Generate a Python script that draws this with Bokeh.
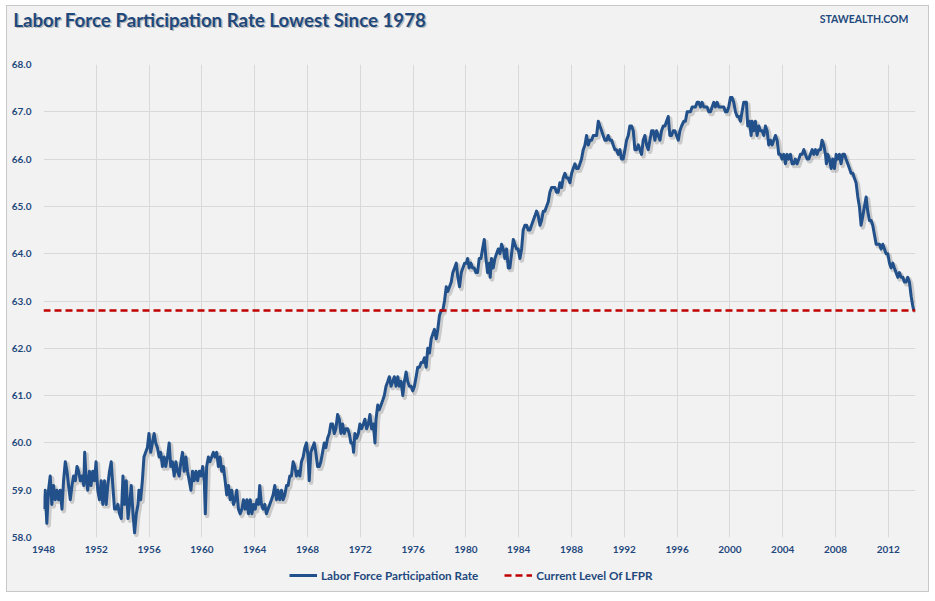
import numpy as np
from bokeh.plotting import figure
from bokeh.layouts import column
from bokeh.models import (FixedTicker, NumeralTickFormatter, Label, Legend,
                          LegendItem, Range1d)
from bokeh.embed import file_html
from bokeh.resources import INLINE

# ---------------- data ----------------
TITLE = "Labor Force Participation Rate Lowest Since 1978"
SOURCE = "STAWEALTH.COM"
SERIES_NAME = "Labor Force Participation Rate"
LEVEL_NAME = "Current Level Of LFPR"
current_level = 62.8
x_ticks = [1948, 1952, 1956, 1960, 1964, 1968, 1972, 1976, 1980, 1984,
           1988, 1992, 1996, 2000, 2004, 2008, 2012]
y_ticks = [58, 59, 60, 61, 62, 63, 64, 65, 66, 67, 68]
x_start, x_end = 1948.0, 2014.06
y_start, y_end = 58.0, 68.0

# (year, participation rate %)
seg_1948_1964 = [
    (1948.00, 58.6), (1948.13, 59.0), (1948.25, 58.3), (1948.38, 59.0), (1948.51, 59.3),
    (1948.63, 58.7), (1948.76, 59.1), (1948.89, 58.8), (1949.02, 59.0), (1949.14, 58.8),
    (1949.27, 59.0), (1949.40, 58.6), (1949.52, 59.2), (1949.65, 59.6), (1949.78, 59.4),
    (1949.90, 59.1), (1950.03, 58.8), (1950.16, 59.1), (1950.28, 59.3), (1950.41, 59.2),
    (1950.54, 59.5), (1950.66, 59.4), (1950.79, 59.2), (1950.92, 59.3), (1951.05, 59.1),
    (1951.12, 59.8), (1951.22, 59.3), (1951.35, 59.0), (1951.48, 59.4), (1951.60, 59.1),
    (1951.73, 59.4), (1951.86, 59.2), (1951.98, 59.6), (1952.11, 59.0), (1952.24, 58.8),
    (1952.37, 59.2), (1952.49, 58.7), (1952.62, 59.2), (1952.75, 58.7), (1952.87, 59.1),
    (1953.00, 59.4), (1953.13, 59.6), (1953.25, 59.1), (1953.38, 58.6), (1953.51, 58.6),
    (1953.63, 58.7), (1953.76, 58.5), (1953.89, 58.4), (1954.02, 59.3), (1954.14, 58.7),
    (1954.27, 59.2), (1954.40, 58.4), (1954.52, 58.7), (1954.65, 59.1), (1954.78, 58.5),
    (1954.90, 58.1), (1955.03, 58.5), (1955.16, 58.7), (1955.23, 59.0), (1955.36, 58.8),
    (1955.49, 59.2), (1955.61, 59.7), (1955.74, 59.8), (1955.87, 59.9), (1955.99, 60.2),
    (1956.12, 59.8), (1956.25, 60.0), (1956.38, 60.2), (1956.50, 60.0), (1956.63, 59.9),
    (1956.76, 59.7), (1956.88, 59.8), (1957.01, 59.5), (1957.14, 59.7), (1957.26, 59.5),
    (1957.39, 59.7), (1957.52, 60.0), (1957.64, 59.5), (1957.77, 59.6), (1957.90, 59.3),
    (1958.03, 59.6), (1958.15, 59.4), (1958.28, 59.3), (1958.41, 59.6), (1958.53, 59.8),
    (1958.66, 59.4), (1958.79, 59.7), (1958.91, 59.4), (1959.04, 59.2), (1959.17, 59.0),
    (1959.29, 59.4), (1959.42, 59.2), (1959.55, 59.4), (1959.68, 59.2), (1959.80, 59.4),
    (1959.93, 59.3), (1960.06, 59.5), (1960.18, 59.2), (1960.26, 58.5), (1960.36, 59.5),
    (1960.49, 59.7), (1960.61, 59.6), (1960.74, 59.7), (1960.87, 59.8), (1960.99, 59.7),
    (1961.12, 59.8), (1961.25, 59.5), (1961.38, 59.7), (1961.50, 59.4), (1961.63, 59.5),
    (1961.76, 59.2), (1961.88, 58.9), (1962.01, 59.1), (1962.14, 58.8), (1962.26, 59.0),
    (1962.39, 58.7), (1962.52, 58.8), (1962.64, 59.0), (1962.77, 58.6), (1962.90, 58.5),
    (1963.03, 58.6), (1963.15, 58.8), (1963.28, 58.6), (1963.41, 58.8), (1963.53, 58.5),
    (1963.66, 58.8), (1963.79, 58.5), (1963.91, 58.7), (1964.04, 58.6), (1964.17, 58.8),
    (1964.29, 58.7),
]
seg_1964_1980 = [
    (1964.38, 59.1), (1964.51, 58.7), (1964.63, 58.6), (1964.76, 58.7), (1964.89, 58.5),
    (1965.01, 58.6), (1965.14, 58.7), (1965.27, 58.8), (1965.39, 58.9), (1965.52, 59.1),
    (1965.65, 58.8), (1965.77, 59.0), (1965.90, 58.8), (1966.03, 59.0), (1966.15, 58.8),
    (1966.28, 58.9), (1966.41, 59.1), (1966.53, 59.1), (1966.66, 59.3), (1966.78, 59.3),
    (1966.91, 59.6), (1967.04, 59.5), (1967.16, 59.3), (1967.29, 59.4), (1967.42, 59.3),
    (1967.54, 59.6), (1967.67, 59.7), (1967.80, 59.9), (1967.92, 60.0), (1968.05, 59.7),
    (1968.13, 59.2), (1968.25, 59.8), (1968.38, 59.9), (1968.51, 60.0), (1968.63, 59.8),
    (1968.76, 59.5), (1968.89, 59.5), (1969.01, 59.6), (1969.14, 59.8), (1969.27, 60.0),
    (1969.39, 59.9), (1969.52, 60.1), (1969.65, 60.2), (1969.77, 60.4), (1969.90, 60.4),
    (1970.03, 60.2), (1970.15, 60.3), (1970.28, 60.6), (1970.41, 60.5), (1970.53, 60.2),
    (1970.66, 60.4), (1970.78, 60.2), (1970.91, 60.3), (1971.04, 60.3), (1971.16, 60.2),
    (1971.29, 60.0), (1971.42, 60.0), (1971.49, 59.8), (1971.59, 60.2), (1971.72, 60.1),
    (1971.85, 60.2), (1971.97, 60.4), (1972.10, 60.3), (1972.23, 60.4), (1972.35, 60.5),
    (1972.48, 60.3), (1972.61, 60.4), (1972.73, 60.6), (1972.86, 60.3), (1972.99, 60.4),
    (1973.11, 60.0), (1973.19, 60.5), (1973.32, 60.8), (1973.44, 60.7), (1973.57, 60.8),
    (1973.70, 60.9), (1973.82, 61.0), (1973.95, 61.2), (1974.08, 61.3), (1974.20, 61.4),
    (1974.33, 61.2), (1974.46, 61.3), (1974.58, 61.4), (1974.71, 61.2), (1974.84, 61.4),
    (1974.96, 61.2), (1975.09, 61.3), (1975.22, 61.0), (1975.34, 61.3), (1975.47, 61.5),
    (1975.59, 61.3), (1975.72, 61.2), (1975.85, 61.2), (1975.97, 61.1), (1976.10, 61.2),
    (1976.23, 61.4), (1976.35, 61.6), (1976.48, 61.6), (1976.61, 61.7), (1976.73, 61.7),
    (1976.86, 61.8), (1976.99, 61.6), (1977.11, 62.0), (1977.24, 61.9), (1977.37, 62.2),
    (1977.49, 62.3), (1977.62, 62.4), (1977.75, 62.2), (1977.87, 62.4), (1978.00, 62.7),
    (1978.13, 62.8), (1978.25, 62.8), (1978.38, 63.0), (1978.51, 63.3), (1978.63, 63.2),
    (1978.76, 63.3), (1978.89, 63.4), (1979.01, 63.6), (1979.14, 63.7), (1979.27, 63.8),
    (1979.39, 63.5), (1979.52, 63.3), (1979.65, 63.6), (1979.77, 63.7), (1979.90, 63.8),
    (1980.03, 63.8),
]
seg_1980_1996 = [
    (1980.13, 63.9), (1980.25, 63.7), (1980.38, 63.8), (1980.51, 63.7), (1980.63, 63.7),
    (1980.76, 63.6), (1980.88, 63.6), (1981.01, 63.9), (1981.14, 63.9), (1981.26, 64.1),
    (1981.39, 64.3), (1981.52, 63.9), (1981.64, 63.6), (1981.77, 63.8), (1981.84, 63.5),
    (1981.94, 63.9), (1982.07, 63.7), (1982.20, 63.9), (1982.32, 64.0), (1982.45, 64.1),
    (1982.58, 64.0), (1982.70, 64.2), (1982.83, 64.1), (1982.95, 63.9), (1983.08, 64.1),
    (1983.21, 63.7), (1983.33, 63.7), (1983.46, 64.0), (1983.59, 64.3), (1983.71, 64.2),
    (1983.84, 64.1), (1983.96, 64.1), (1984.09, 63.9), (1984.22, 64.1), (1984.34, 64.5),
    (1984.47, 64.6), (1984.60, 64.6), (1984.72, 64.5), (1984.85, 64.5), (1984.97, 64.6),
    (1985.10, 64.7), (1985.23, 64.8), (1985.35, 64.9), (1985.48, 64.8), (1985.61, 64.6),
    (1985.73, 64.7), (1985.86, 64.9), (1985.98, 64.9), (1986.11, 65.0), (1986.24, 65.1),
    (1986.36, 65.3), (1986.49, 65.4), (1986.62, 65.4), (1986.74, 65.4), (1986.87, 65.3),
    (1986.99, 65.3), (1987.12, 65.5), (1987.25, 65.4), (1987.37, 65.6), (1987.50, 65.7),
    (1987.63, 65.6), (1987.75, 65.6), (1987.88, 65.5), (1988.01, 65.7), (1988.13, 65.8),
    (1988.26, 65.9), (1988.38, 65.8), (1988.51, 65.8), (1988.64, 65.9), (1988.76, 66.0),
    (1988.89, 66.2), (1989.02, 66.3), (1989.14, 66.5), (1989.27, 66.3), (1989.39, 66.4),
    (1989.52, 66.4), (1989.65, 66.5), (1989.77, 66.5), (1989.90, 66.5), (1990.03, 66.8),
    (1990.15, 66.7), (1990.28, 66.6), (1990.40, 66.5), (1990.53, 66.4), (1990.66, 66.4),
    (1990.78, 66.5), (1990.91, 66.4), (1991.04, 66.4), (1991.16, 66.3), (1991.29, 66.2),
    (1991.41, 66.2), (1991.54, 66.1), (1991.67, 66.2), (1991.79, 66.0), (1991.92, 66.0),
    (1992.05, 66.2), (1992.17, 66.4), (1992.30, 66.5), (1992.42, 66.7), (1992.55, 66.7),
    (1992.68, 66.6), (1992.80, 66.2), (1992.93, 66.2), (1993.06, 66.3), (1993.18, 66.2),
    (1993.31, 66.1), (1993.43, 66.4), (1993.56, 66.5), (1993.69, 66.3), (1993.81, 66.2),
    (1993.94, 66.4), (1994.07, 66.6), (1994.19, 66.6), (1994.32, 66.4), (1994.44, 66.6),
    (1994.57, 66.5), (1994.70, 66.4), (1994.82, 66.6), (1994.95, 66.7), (1995.08, 66.7),
    (1995.20, 66.8), (1995.33, 66.9), (1995.45, 66.5), (1995.58, 66.5), (1995.71, 66.6),
    (1995.83, 66.6), (1995.96, 66.5), (1996.09, 66.4), (1996.21, 66.6), (1996.34, 66.7),
]
seg_1996_2013 = [
    (1996.51, 66.8), (1996.63, 66.8), (1996.76, 67.0), (1996.88, 67.0), (1997.01, 67.0),
    (1997.14, 67.1), (1997.26, 67.1), (1997.39, 67.1), (1997.52, 67.2), (1997.64, 67.2),
    (1997.77, 67.1), (1997.89, 67.2), (1998.02, 67.1), (1998.15, 67.1), (1998.27, 67.1),
    (1998.40, 67.0), (1998.53, 67.0), (1998.65, 67.1), (1998.78, 67.2), (1998.90, 67.1),
    (1999.03, 67.2), (1999.16, 67.1), (1999.28, 67.1), (1999.41, 67.1), (1999.54, 67.1),
    (1999.66, 67.0), (1999.79, 67.0), (1999.91, 67.1), (2000.04, 67.3), (2000.17, 67.3),
    (2000.29, 67.2), (2000.42, 67.0), (2000.55, 66.9), (2000.67, 66.9), (2000.80, 66.8),
    (2000.92, 67.0), (2001.05, 67.2), (2001.18, 67.2), (2001.25, 67.2), (2001.35, 66.7),
    (2001.48, 66.8), (2001.61, 66.5), (2001.68, 66.8), (2001.81, 66.6), (2001.93, 66.8),
    (2002.06, 66.5), (2002.19, 66.7), (2002.31, 66.6), (2002.44, 66.6), (2002.57, 66.5),
    (2002.69, 66.7), (2002.82, 66.6), (2002.94, 66.3), (2003.07, 66.4), (2003.20, 66.3),
    (2003.32, 66.4), (2003.45, 66.5), (2003.58, 66.4), (2003.70, 66.1), (2003.83, 66.1),
    (2003.95, 66.0), (2004.08, 66.1), (2004.21, 65.9), (2004.33, 66.1), (2004.46, 66.0),
    (2004.59, 66.1), (2004.71, 65.9), (2004.84, 65.9), (2004.96, 66.0), (2005.09, 65.9),
    (2005.22, 66.0), (2005.34, 66.1), (2005.47, 66.1), (2005.60, 66.2), (2005.72, 66.1),
    (2005.85, 66.0), (2005.97, 66.0), (2006.10, 66.1), (2006.23, 66.2), (2006.35, 66.1),
    (2006.48, 66.2), (2006.61, 66.1), (2006.73, 66.2), (2006.86, 66.2), (2006.98, 66.4),
    (2007.11, 66.3), (2007.24, 66.1), (2007.31, 65.9), (2007.41, 66.1), (2007.54, 66.0),
    (2007.67, 65.8), (2007.79, 66.0), (2007.92, 65.8), (2008.05, 66.1), (2008.17, 66.0),
    (2008.30, 66.1), (2008.42, 65.9), (2008.55, 66.1), (2008.68, 66.1), (2008.80, 66.0),
    (2008.93, 65.9), (2009.06, 65.8), (2009.18, 65.7), (2009.31, 65.7), (2009.43, 65.6),
    (2009.56, 65.5), (2009.69, 65.2), (2009.81, 65.0), (2009.94, 64.6), (2010.07, 64.8),
    (2010.19, 65.0), (2010.32, 65.2), (2010.44, 64.9), (2010.57, 64.7), (2010.70, 64.7),
    (2010.82, 64.6), (2010.95, 64.4), (2011.08, 64.2), (2011.20, 64.2), (2011.33, 64.2),
    (2011.45, 64.1), (2011.58, 64.2), (2011.71, 64.1), (2011.83, 64.0), (2011.96, 64.0),
    (2012.09, 63.8), (2012.21, 63.7), (2012.34, 63.8), (2012.46, 63.7), (2012.59, 63.6),
    (2012.72, 63.5), (2012.84, 63.6), (2012.97, 63.5), (2013.10, 63.5), (2013.22, 63.4),
    (2013.35, 63.4), (2013.47, 63.5), (2013.60, 63.4), (2013.73, 63.1), (2013.85, 62.9),
    (2013.93, 62.8),
]

points = seg_1948_1964 + seg_1964_1980 + seg_1980_1996 + seg_1996_2013
years = np.array([pt[0] for pt in points])
lfpr = np.array([pt[1] for pt in points])

# ---------------- styling ----------------
FONT = "Lato"
TEXT = "#1F497D"
LINE = "#22508A"
RED = "#C00000"
PANEL = "#F2F2F2"
GRID = "#D9D9D9"
W = 921


def strip(height):
    f = figure(width=W, height=height, x_range=Range1d(0, 1), y_range=Range1d(0, 1),
               x_axis_type=None, y_axis_type=None,
               output_backend="svg", toolbar_location=None, min_border=0,
               background_fill_color=PANEL, border_fill_color=PANEL,
               outline_line_color=None)
    f.grid.visible = False
    f.frame_align = False
    return f


# header strip: title + source
header = strip(52)
header.add_layout(Label(x=7.2, y=26.5, x_units="screen", y_units="screen", text=TITLE,
                        text_font=FONT, text_font_size="18.7px", text_font_style="bold",
                        text_color="#7F7F7F", text_alpha=0.5))
header.add_layout(Label(x=5.7, y=28, x_units="screen", y_units="screen", text=TITLE,
                        text_font=FONT, text_font_size="18.7px", text_font_style="bold",
                        text_color=TEXT))
header.add_layout(Label(x=901, y=34, x_units="screen", y_units="screen", text=SOURCE,
                        text_font=FONT, text_font_size="10.5px", text_font_style="bold",
                        text_color=TEXT, text_align="right"))

# main chart
p = figure(width=W, height=503,
           x_range=Range1d(x_start, x_end), y_range=Range1d(y_start, y_end),
           output_backend="svg", toolbar_location=None,
           min_border_left=36, min_border_right=13,
           min_border_top=6, min_border_bottom=24,
           background_fill_color=PANEL, border_fill_color=PANEL,
           outline_line_color=None)

p.xaxis.ticker = FixedTicker(ticks=x_ticks)
p.yaxis.ticker = FixedTicker(ticks=y_ticks)
p.yaxis.formatter = NumeralTickFormatter(format="0.0")
for ax in (p.xaxis, p.yaxis):
    ax.axis_line_color = None
    ax.major_tick_line_color = None
    ax.minor_tick_line_color = None
    ax.major_tick_out = 0
    ax.major_tick_in = 0
    ax.major_label_text_font = FONT
    ax.major_label_text_font_size = "10px"
    ax.major_label_text_font_style = "bold"
    ax.major_label_text_color = TEXT
p.xaxis.major_label_standoff = 8
p.yaxis.major_label_standoff = 12

p.xgrid.ticker = FixedTicker(ticks=x_ticks)
p.ygrid.ticker = FixedTicker(ticks=y_ticks)
p.grid.grid_line_color = GRID
p.grid.grid_line_width = 1

# series (with soft drop shadow)
p.line(years + 0.14, lfpr - 0.045, line_color="#000000", line_alpha=0.16,
       line_width=4.5, line_join="round")
p.line(years, lfpr, line_color=LINE, line_width=3, line_join="round")
p.line([x_start, x_end], [current_level, current_level],
       line_color=RED, line_width=2.5, line_dash="7 4")

# footer strip: legend (its key renderers hold the same series, which fall
# outside this strip's ranges so only the legend samples show)
footer = strip(30)
key_series = footer.line(years, lfpr, line_color=LINE, line_width=3)
key_level = footer.line([x_start, x_end], [current_level, current_level],
                        line_color=RED, line_width=2.5, line_dash="7 4")
legend = Legend(items=[LegendItem(label=SERIES_NAME, renderers=[key_series]),
                       LegendItem(label=LEVEL_NAME, renderers=[key_level])],
                orientation="horizontal", location=(282, 9),
                background_fill_alpha=0, border_line_color=None,
                label_text_font=FONT, label_text_font_size="11.7px",
                label_text_font_style="bold", label_text_color=TEXT,
                glyph_width=28, glyph_height=14, label_standoff=4,
                spacing=26, padding=0, margin=0)
footer.add_layout(legend)

layout = column(header, p, footer, spacing=0)
layout.margin = (6, 7, 10, 7)
layout.styles = {"outline": "1px solid #C8C8C8", "background-color": PANEL}

open("out.html", "w").write(file_html(layout, INLINE))
